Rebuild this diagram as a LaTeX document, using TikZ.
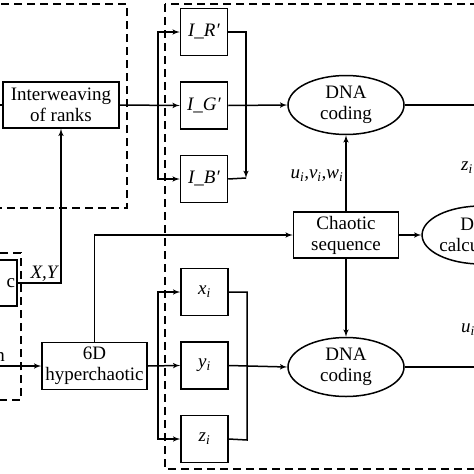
\documentclass[tikz,border=0pt]{standalone}
\usepackage{fontspec}
\setmainfont{Liberation Serif}
\usepackage{tikz}
\usetikzlibrary{shapes.geometric, arrows}

\begin{document}
\begin{tikzpicture}[x=1pt, y=-1pt, node distance=73.5pt, auto]
    % Define the style for the nodes
    \tikzstyle{every node} = [font=\fontsize{19}{21}\selectfont]
    \tikzstyle{box} = [rectangle, draw, line width=1.5pt, align=center, inner sep=1pt]
    \tikzstyle{small} = [box, minimum width=47pt, minimum height=47pt]
    \tikzstyle{oval} = [ellipse, draw, line width=1.5pt, align=center, minimum width=116pt, minimum height=59pt, inner sep=0pt]
    \tikzstyle{line} = [draw, -latex', line width=1.5pt]
    \tikzstyle{frame} = [draw, line width=1.5pt, dash pattern=on 8pt off 5pt]

    \useasboundingbox (0,0) rectangle (474,474);
    \clip (0,0) rectangle (474,474);

    % Dashed frames
    \path [frame] (-10,4) rectangle (127,208);
    \path [frame] (-10,253) rectangle (21,400);
    \path [frame] (165,4) rectangle (500,469);

    % Place the nodes
    \node [box, minimum width=116pt, minimum height=46pt] (weave) at (61,105) {Interweaving\\of ranks};
    \node [box, minimum width=62pt, minimum height=46pt, text width=58pt, align=right] (left) at (-14,283) {c\hspace*{8pt}};
    \node [box, minimum width=105pt, minimum height=47pt] (hyper) at (94.5,366) {6D\\hyperchaotic};

    \node [small] (ir) at (204,32) {\textit{I\_R′}};
    \node [small, below of=ir] (ig) {\textit{I\_G′}};
    \node [small, below of=ig] (ib) {\textit{I\_B′}};

    \node [small] (xi) at (204.5,292) {\textit{x\textsubscript{i}}};
    \node [small, below of=xi] (yi) {\textit{y\textsubscript{i}}};
    \node [small, below of=yi] (zi) {\textit{z\textsubscript{i}}};

    \node [oval] (dnatop) at (346,105) {DNA\\coding};
    \node [box, minimum width=105pt, minimum height=46pt] (chaos) at (346,235) {Chaotic\\sequence};
    \node [oval, minimum height=58pt] (calc) at (481,235) {DNA\\calculation};
    \node [oval] (dnabot) at (346,367) {DNA\\coding};

    \node [anchor=east, inner sep=0pt] (nlab) at (5,357) {n};
    \node [anchor=west, inner sep=0pt] (zlab) at (461,168) {\textit{z\textsubscript{i}}};
    \node [anchor=west, inner sep=0pt] (ulab) at (461,330) {\textit{u\textsubscript{i}}};

    \coordinate (wsplit) at (158,105);
    \coordinate (hsplit) at (158,366);
    \coordinate (rbjoin) at (246,178);
    \coordinate (xzjoin) at (247,440);
    \coordinate (xyturn) at (61,283);

    % Connect the nodes with paths
    \draw [line width=1.5pt] (-5,105) -- (weave.west);
    \path [line] (left.east) -- node[pos=1, anchor=south east, inner sep=1pt] {\textit{X,Y}} (xyturn) -- (weave.south);
    \path [line] (-5,366) -- (hyper.west);

    \path [line] (weave.east) -- (ig.west);
    \path [line] (wsplit) |- (ir.west);
    \path [line] (wsplit) |- (ib.west);

    \path [line] (hyper.east) -- (yi.west);
    \path [line] (hsplit) |- (xi.west);
    \path [line] (hsplit) |- (zi.west);
    \path [line] (hyper.north) |- (chaos.west);

    \path [line] (ir.east) -| (rbjoin);
    \draw [line width=1.5pt] (ib.east) -- (rbjoin);
    \path [line] (ig.east) -- (dnatop.west);

    \draw [line width=1.5pt] (xi.east) -| (xzjoin) -- (zi.east);
    \path [line] (yi.east) -- (dnabot.west);

    \path [line] (chaos.north) -- node[left, pos=0.47, inner sep=2pt] {\textit{u\textsubscript{i},v\textsubscript{i},w\textsubscript{i}}} (dnatop.south);
    \path [line] (chaos.south) -- (dnabot.north);
    \path [line] (chaos.east) -- (calc.west);

    \draw [line width=1.5pt] (dnatop.east) -- (480,105);
    \draw [line width=1.5pt] (dnabot.east) -- (480,367);

\end{tikzpicture}
\end{document}
